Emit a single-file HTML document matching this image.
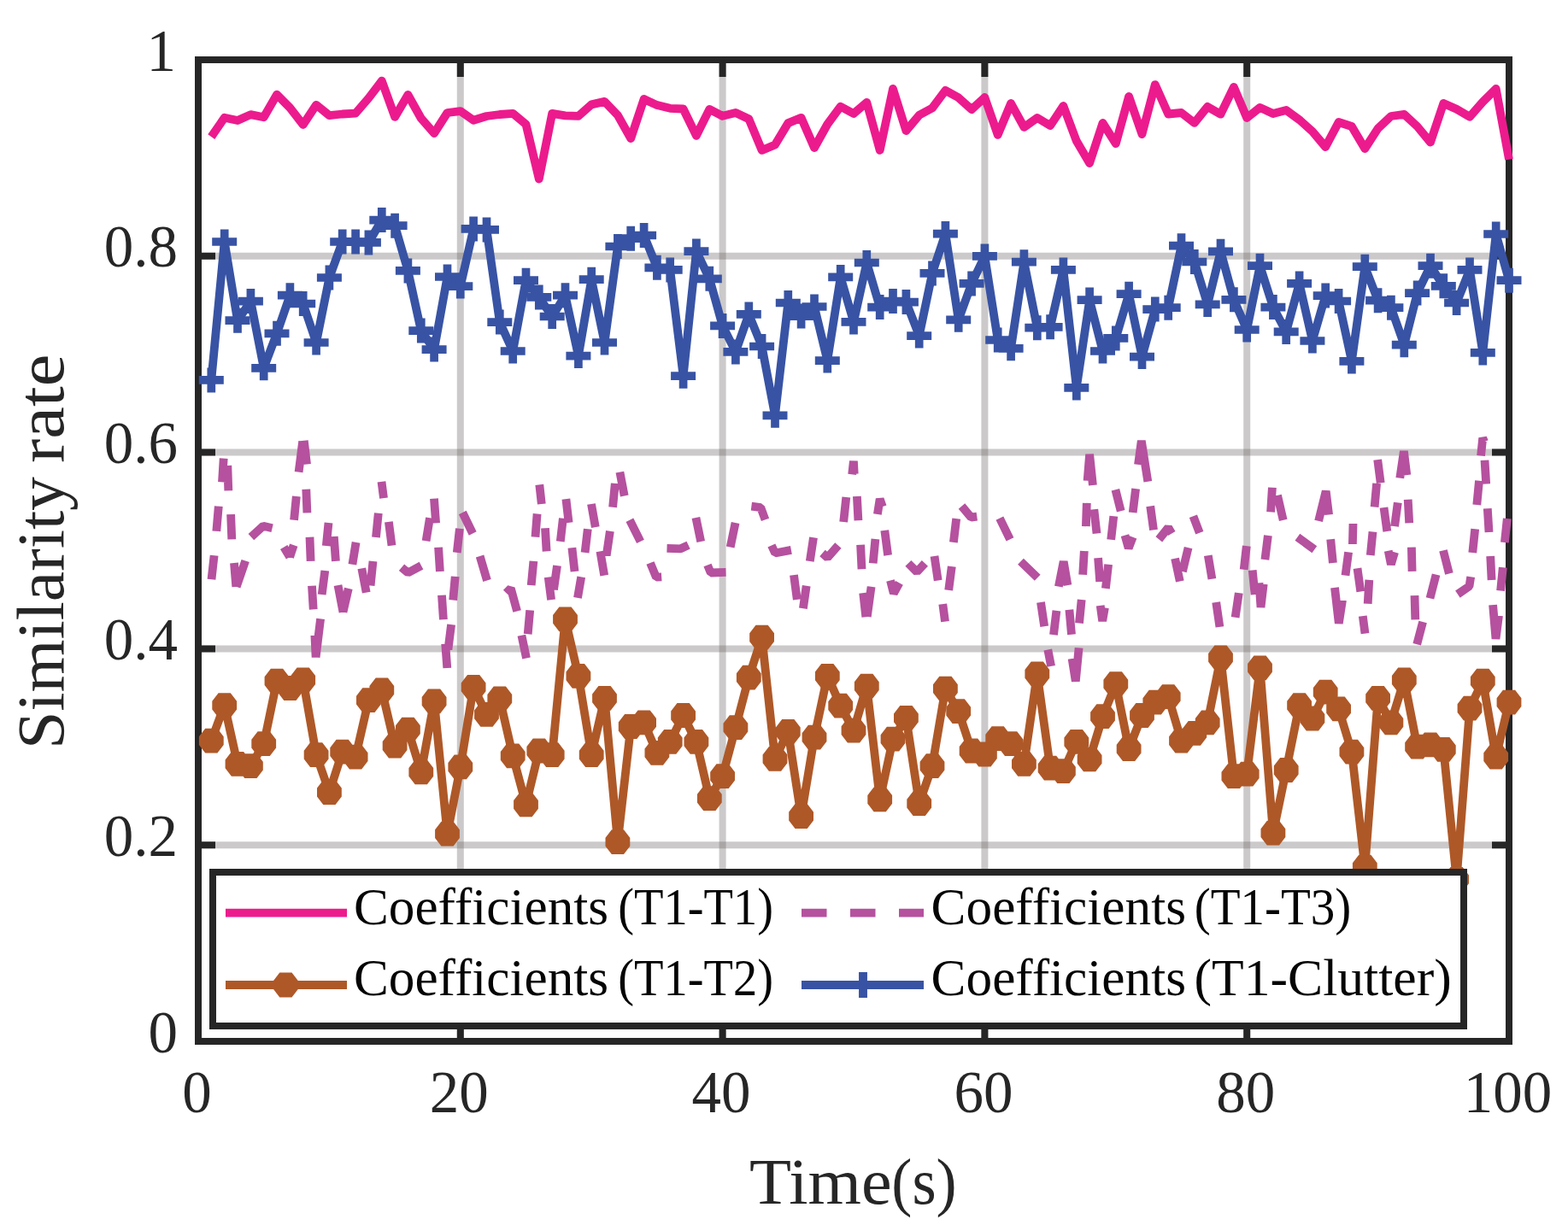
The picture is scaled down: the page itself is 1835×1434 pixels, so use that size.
<!DOCTYPE html>
<html><head><meta charset="utf-8"><title>Similarity rate</title><style>
html,body{margin:0;padding:0;background:#fff;}
svg{display:block;}
text{font-family:"Liberation Serif",serif;fill:#262626;}
</style></head><body>
<svg width="1835" height="1434" viewBox="0 0 1835 1434">
<rect x="0" y="0" width="1835" height="1434" fill="#fff"/>
<g fill="none" stroke="rgb(110,106,104)" stroke-opacity="0.36" stroke-width="8"><path d="M538.8,70V1219"/><path d="M845.6,70V1219"/><path d="M1152.4,70V1219"/><path d="M1459.2,70V1219"/><path d="M232,989.2H1766"/><path d="M232,759.4H1766"/><path d="M232,529.6H1766"/><path d="M232,299.8H1766"/></g>
<path fill="none" stroke="#262626" stroke-width="8" d="M538.8,1219v-20M538.8,70v20M845.6,1219v-20M845.6,70v20M1152.4,1219v-20M1152.4,70v20M1459.2,1219v-20M1459.2,70v20M232,989.2h20M1766,989.2h-20M232,759.4h20M1766,759.4h-20M232,529.6h20M1766,529.6h-20M232,299.8h20M1766,299.8h-20"/>
<rect x="232" y="70" width="1534" height="1149" fill="none" stroke="#262626" stroke-width="8"/>
<polyline fill="none" stroke-linejoin="round" stroke-linecap="butt" stroke="#ec1b8d" stroke-width="9.8" points="247.3,160.1 262.7,137.8 278.0,141.0 293.4,134.1 308.7,137.2 324.0,110.7 339.4,126.3 354.7,146.0 370.1,122.8 385.4,135.1 400.7,133.5 416.1,132.6 431.4,114.9 446.8,94.7 462.1,136.9 477.4,111.0 492.8,138.5 508.1,156.0 523.5,132.0 538.8,130.1 554.1,140.8 569.5,136.0 584.8,134.0 600.2,132.8 615.5,145.5 630.8,209.6 646.2,132.8 661.5,135.3 676.9,135.9 692.2,122.4 707.5,118.9 722.9,134.8 738.2,162.1 753.6,116.0 768.9,123.1 784.2,126.8 799.6,127.5 814.9,158.8 830.3,127.9 845.6,135.8 860.9,132.0 876.3,139.2 891.6,175.9 907.0,169.5 922.3,144.1 937.6,137.8 953.0,173.0 968.3,145.5 983.7,124.7 999.0,133.0 1014.3,119.9 1029.7,175.9 1045.0,103.9 1060.4,153.0 1075.7,134.8 1091.0,126.5 1106.4,105.9 1121.7,114.3 1137.1,128.1 1152.4,114.0 1167.7,157.9 1183.1,121.0 1198.4,148.9 1213.8,137.9 1229.1,147.1 1244.4,124.0 1259.8,165.1 1275.1,191.1 1290.5,144.0 1305.8,168.1 1321.1,112.9 1336.5,157.1 1351.8,99.1 1367.2,133.5 1382.5,132.0 1397.8,143.9 1413.2,124.9 1428.5,133.7 1443.9,102.0 1459.2,138.0 1474.5,125.9 1489.9,133.0 1505.2,129.0 1520.6,140.2 1535.9,153.8 1551.2,172.0 1566.6,143.0 1581.9,148.0 1597.3,174.0 1612.6,150.4 1627.9,136.0 1643.3,133.9 1658.6,148.0 1674.0,166.6 1689.3,121.0 1704.6,127.8 1720.0,136.7 1735.3,119.2 1750.7,103.9 1766.0,186.7"/>
<polyline fill="none" stroke-linejoin="round" stroke-linecap="butt" stroke="#ae5828" stroke-width="9.8" points="247.3,867.1 262.7,825.6 278.0,894.4 293.4,896.7 308.7,870.7 324.0,797.2 339.4,805.5 354.7,796.0 370.1,883.7 385.4,927.5 400.7,880.1 416.1,886.1 431.4,819.7 446.8,807.8 462.1,873.0 477.4,854.1 492.8,903.8 508.1,820.9 523.5,976.1 538.8,897.9 554.1,804.3 569.5,836.3 584.8,817.8 600.2,884.9 615.5,941.8 630.8,879.0 646.2,883.7 661.5,724.9 676.9,791.3 692.2,883.7 707.5,817.3 722.9,985.6 738.2,850.5 753.6,845.8 768.9,881.3 784.2,868.3 799.6,837.5 814.9,868.3 830.3,934.6 845.6,908.6 860.9,851.7 876.3,793.1 891.6,746.2 907.0,888.4 922.3,856.4 937.6,955.5 953.0,863.1 968.3,791.3 983.7,826.1 999.0,855.2 1014.3,803.1 1029.7,935.8 1045.0,865.2 1060.4,840.3 1075.7,940.6 1091.0,896.7 1106.4,806.2 1121.7,832.7 1137.1,879.0 1152.4,883.0 1167.7,864.7 1183.1,870.7 1198.4,894.4 1213.8,788.9 1229.1,899.1 1244.4,902.7 1259.8,868.3 1275.1,888.9 1290.5,838.7 1305.8,800.7 1321.1,876.6 1336.5,837.5 1351.8,822.1 1367.2,815.7 1382.5,867.1 1397.8,858.3 1413.2,845.8 1428.5,769.9 1443.9,908.6 1459.2,906.2 1474.5,781.8 1489.9,975.2 1505.2,901.5 1520.6,825.6 1535.9,841.0 1551.2,810.2 1566.6,829.9 1581.9,880.1 1597.3,1015.2 1612.6,817.3 1627.9,845.8 1643.3,796.0 1658.6,874.2 1674.0,871.8 1689.3,877.3 1704.6,1029.4 1720.0,829.2 1735.3,797.2 1750.7,886.1 1766.0,822.1"/>
<path fill="#ae5828" d="M240.2,852.7L254.4,852.7L261.7,862.2L261.7,872.0L254.4,881.5L240.2,881.5L232.9,872.0L232.9,862.2ZM255.6,811.2L269.8,811.2L277.1,820.7L277.1,830.5L269.8,840.0L255.6,840.0L248.3,830.5L248.3,820.7ZM270.9,880.0L285.1,880.0L292.4,889.5L292.4,899.3L285.1,908.8L270.9,908.8L263.6,899.3L263.6,889.5ZM286.3,882.3L300.5,882.3L307.8,891.8L307.8,901.6L300.5,911.1L286.3,911.1L279.0,901.6L279.0,891.8ZM301.6,856.3L315.8,856.3L323.1,865.8L323.1,875.6L315.8,885.1L301.6,885.1L294.3,875.6L294.3,865.8ZM316.9,782.8L331.1,782.8L338.4,792.3L338.4,802.1L331.1,811.6L316.9,811.6L309.6,802.1L309.6,792.3ZM332.3,791.1L346.5,791.1L353.8,800.6L353.8,810.4L346.5,819.9L332.3,819.9L325.0,810.4L325.0,800.6ZM347.6,781.6L361.8,781.6L369.1,791.1L369.1,800.9L361.8,810.4L347.6,810.4L340.3,800.9L340.3,791.1ZM363.0,869.3L377.2,869.3L384.5,878.8L384.5,888.6L377.2,898.1L363.0,898.1L355.7,888.6L355.7,878.8ZM378.3,913.1L392.5,913.1L399.8,922.6L399.8,932.4L392.5,941.9L378.3,941.9L371.0,932.4L371.0,922.6ZM393.6,865.7L407.8,865.7L415.1,875.2L415.1,885.0L407.8,894.5L393.6,894.5L386.3,885.0L386.3,875.2ZM409.0,871.7L423.2,871.7L430.5,881.2L430.5,891.0L423.2,900.5L409.0,900.5L401.7,891.0L401.7,881.2ZM424.3,805.3L438.5,805.3L445.8,814.8L445.8,824.6L438.5,834.1L424.3,834.1L417.0,824.6L417.0,814.8ZM439.7,793.4L453.9,793.4L461.2,802.9L461.2,812.7L453.9,822.2L439.7,822.2L432.4,812.7L432.4,802.9ZM455.0,858.6L469.2,858.6L476.5,868.1L476.5,877.9L469.2,887.4L455.0,887.4L447.7,877.9L447.7,868.1ZM470.3,839.7L484.5,839.7L491.8,849.2L491.8,859.0L484.5,868.5L470.3,868.5L463.0,859.0L463.0,849.2ZM485.7,889.4L499.9,889.4L507.2,898.9L507.2,908.7L499.9,918.2L485.7,918.2L478.4,908.7L478.4,898.9ZM501.0,806.5L515.2,806.5L522.5,816.0L522.5,825.8L515.2,835.3L501.0,835.3L493.7,825.8L493.7,816.0ZM516.4,961.7L530.6,961.7L537.9,971.2L537.9,981.0L530.6,990.5L516.4,990.5L509.1,981.0L509.1,971.2ZM531.7,883.5L545.9,883.5L553.2,893.0L553.2,902.8L545.9,912.3L531.7,912.3L524.4,902.8L524.4,893.0ZM547.0,789.9L561.2,789.9L568.5,799.4L568.5,809.2L561.2,818.7L547.0,818.7L539.7,809.2L539.7,799.4ZM562.4,821.9L576.6,821.9L583.9,831.4L583.9,841.2L576.6,850.7L562.4,850.7L555.1,841.2L555.1,831.4ZM577.7,803.4L591.9,803.4L599.2,812.9L599.2,822.7L591.9,832.2L577.7,832.2L570.4,822.7L570.4,812.9ZM593.1,870.5L607.3,870.5L614.6,880.0L614.6,889.8L607.3,899.3L593.1,899.3L585.8,889.8L585.8,880.0ZM608.4,927.4L622.6,927.4L629.9,936.9L629.9,946.7L622.6,956.2L608.4,956.2L601.1,946.7L601.1,936.9ZM623.7,864.6L637.9,864.6L645.2,874.1L645.2,883.9L637.9,893.4L623.7,893.4L616.4,883.9L616.4,874.1ZM639.1,869.3L653.3,869.3L660.6,878.8L660.6,888.6L653.3,898.1L639.1,898.1L631.8,888.6L631.8,878.8ZM654.4,710.5L668.6,710.5L675.9,720.0L675.9,729.8L668.6,739.3L654.4,739.3L647.1,729.8L647.1,720.0ZM669.8,776.9L684.0,776.9L691.3,786.4L691.3,796.2L684.0,805.7L669.8,805.7L662.5,796.2L662.5,786.4ZM685.1,869.3L699.3,869.3L706.6,878.8L706.6,888.6L699.3,898.1L685.1,898.1L677.8,888.6L677.8,878.8ZM700.4,802.9L714.6,802.9L721.9,812.4L721.9,822.2L714.6,831.7L700.4,831.7L693.1,822.2L693.1,812.4ZM715.8,971.2L730.0,971.2L737.3,980.7L737.3,990.5L730.0,1000.0L715.8,1000.0L708.5,990.5L708.5,980.7ZM731.1,836.1L745.3,836.1L752.6,845.6L752.6,855.4L745.3,864.9L731.1,864.9L723.8,855.4L723.8,845.6ZM746.5,831.4L760.7,831.4L768.0,840.9L768.0,850.7L760.7,860.2L746.5,860.2L739.2,850.7L739.2,840.9ZM761.8,866.9L776.0,866.9L783.3,876.4L783.3,886.2L776.0,895.7L761.8,895.7L754.5,886.2L754.5,876.4ZM777.1,853.9L791.3,853.9L798.6,863.4L798.6,873.2L791.3,882.7L777.1,882.7L769.8,873.2L769.8,863.4ZM792.5,823.1L806.7,823.1L814.0,832.6L814.0,842.4L806.7,851.9L792.5,851.9L785.2,842.4L785.2,832.6ZM807.8,853.9L822.0,853.9L829.3,863.4L829.3,873.2L822.0,882.7L807.8,882.7L800.5,873.2L800.5,863.4ZM823.2,920.2L837.4,920.2L844.7,929.7L844.7,939.5L837.4,949.0L823.2,949.0L815.9,939.5L815.9,929.7ZM838.5,894.2L852.7,894.2L860.0,903.7L860.0,913.5L852.7,923.0L838.5,923.0L831.2,913.5L831.2,903.7ZM853.8,837.3L868.0,837.3L875.3,846.8L875.3,856.6L868.0,866.1L853.8,866.1L846.5,856.6L846.5,846.8ZM869.2,778.7L883.4,778.7L890.7,788.2L890.7,798.0L883.4,807.5L869.2,807.5L861.9,798.0L861.9,788.2ZM884.5,731.8L898.7,731.8L906.0,741.3L906.0,751.1L898.7,760.6L884.5,760.6L877.2,751.1L877.2,741.3ZM899.9,874.0L914.1,874.0L921.4,883.5L921.4,893.3L914.1,902.8L899.9,902.8L892.6,893.3L892.6,883.5ZM915.2,842.0L929.4,842.0L936.7,851.5L936.7,861.3L929.4,870.8L915.2,870.8L907.9,861.3L907.9,851.5ZM930.5,941.1L944.7,941.1L952.0,950.6L952.0,960.4L944.7,969.9L930.5,969.9L923.2,960.4L923.2,950.6ZM945.9,848.7L960.1,848.7L967.4,858.2L967.4,868.0L960.1,877.5L945.9,877.5L938.6,868.0L938.6,858.2ZM961.2,776.9L975.4,776.9L982.7,786.4L982.7,796.2L975.4,805.7L961.2,805.7L953.9,796.2L953.9,786.4ZM976.6,811.7L990.8,811.7L998.1,821.2L998.1,831.0L990.8,840.5L976.6,840.5L969.3,831.0L969.3,821.2ZM991.9,840.8L1006.1,840.8L1013.4,850.3L1013.4,860.1L1006.1,869.6L991.9,869.6L984.6,860.1L984.6,850.3ZM1007.2,788.7L1021.4,788.7L1028.7,798.2L1028.7,808.0L1021.4,817.5L1007.2,817.5L999.9,808.0L999.9,798.2ZM1022.6,921.4L1036.8,921.4L1044.1,930.9L1044.1,940.7L1036.8,950.2L1022.6,950.2L1015.3,940.7L1015.3,930.9ZM1037.9,850.8L1052.1,850.8L1059.4,860.3L1059.4,870.1L1052.1,879.6L1037.9,879.6L1030.6,870.1L1030.6,860.3ZM1053.3,825.9L1067.5,825.9L1074.8,835.4L1074.8,845.2L1067.5,854.7L1053.3,854.7L1046.0,845.2L1046.0,835.4ZM1068.6,926.2L1082.8,926.2L1090.1,935.7L1090.1,945.5L1082.8,955.0L1068.6,955.0L1061.3,945.5L1061.3,935.7ZM1083.9,882.3L1098.1,882.3L1105.4,891.8L1105.4,901.6L1098.1,911.1L1083.9,911.1L1076.6,901.6L1076.6,891.8ZM1099.3,791.8L1113.5,791.8L1120.8,801.3L1120.8,811.1L1113.5,820.6L1099.3,820.6L1092.0,811.1L1092.0,801.3ZM1114.6,818.3L1128.8,818.3L1136.1,827.8L1136.1,837.6L1128.8,847.1L1114.6,847.1L1107.3,837.6L1107.3,827.8ZM1130.0,864.6L1144.2,864.6L1151.5,874.1L1151.5,883.9L1144.2,893.4L1130.0,893.4L1122.7,883.9L1122.7,874.1ZM1145.3,868.6L1159.5,868.6L1166.8,878.1L1166.8,887.9L1159.5,897.4L1145.3,897.4L1138.0,887.9L1138.0,878.1ZM1160.6,850.3L1174.8,850.3L1182.1,859.8L1182.1,869.6L1174.8,879.1L1160.6,879.1L1153.3,869.6L1153.3,859.8ZM1176.0,856.3L1190.2,856.3L1197.5,865.8L1197.5,875.6L1190.2,885.1L1176.0,885.1L1168.7,875.6L1168.7,865.8ZM1191.3,880.0L1205.5,880.0L1212.8,889.5L1212.8,899.3L1205.5,908.8L1191.3,908.8L1184.0,899.3L1184.0,889.5ZM1206.7,774.5L1220.9,774.5L1228.2,784.0L1228.2,793.8L1220.9,803.3L1206.7,803.3L1199.4,793.8L1199.4,784.0ZM1222.0,884.7L1236.2,884.7L1243.5,894.2L1243.5,904.0L1236.2,913.5L1222.0,913.5L1214.7,904.0L1214.7,894.2ZM1237.3,888.3L1251.5,888.3L1258.8,897.8L1258.8,907.6L1251.5,917.1L1237.3,917.1L1230.0,907.6L1230.0,897.8ZM1252.7,853.9L1266.9,853.9L1274.2,863.4L1274.2,873.2L1266.9,882.7L1252.7,882.7L1245.4,873.2L1245.4,863.4ZM1268.0,874.5L1282.2,874.5L1289.5,884.0L1289.5,893.8L1282.2,903.3L1268.0,903.3L1260.7,893.8L1260.7,884.0ZM1283.4,824.3L1297.6,824.3L1304.9,833.8L1304.9,843.6L1297.6,853.1L1283.4,853.1L1276.1,843.6L1276.1,833.8ZM1298.7,786.3L1312.9,786.3L1320.2,795.8L1320.2,805.6L1312.9,815.1L1298.7,815.1L1291.4,805.6L1291.4,795.8ZM1314.0,862.2L1328.2,862.2L1335.5,871.7L1335.5,881.5L1328.2,891.0L1314.0,891.0L1306.7,881.5L1306.7,871.7ZM1329.4,823.1L1343.6,823.1L1350.9,832.6L1350.9,842.4L1343.6,851.9L1329.4,851.9L1322.1,842.4L1322.1,832.6ZM1344.7,807.7L1358.9,807.7L1366.2,817.2L1366.2,827.0L1358.9,836.5L1344.7,836.5L1337.4,827.0L1337.4,817.2ZM1360.1,801.3L1374.3,801.3L1381.6,810.8L1381.6,820.6L1374.3,830.1L1360.1,830.1L1352.8,820.6L1352.8,810.8ZM1375.4,852.7L1389.6,852.7L1396.9,862.2L1396.9,872.0L1389.6,881.5L1375.4,881.5L1368.1,872.0L1368.1,862.2ZM1390.7,843.9L1404.9,843.9L1412.2,853.4L1412.2,863.2L1404.9,872.7L1390.7,872.7L1383.4,863.2L1383.4,853.4ZM1406.1,831.4L1420.3,831.4L1427.6,840.9L1427.6,850.7L1420.3,860.2L1406.1,860.2L1398.8,850.7L1398.8,840.9ZM1421.4,755.5L1435.6,755.5L1442.9,765.0L1442.9,774.8L1435.6,784.3L1421.4,784.3L1414.1,774.8L1414.1,765.0ZM1436.8,894.2L1451.0,894.2L1458.3,903.7L1458.3,913.5L1451.0,923.0L1436.8,923.0L1429.5,913.5L1429.5,903.7ZM1452.1,891.8L1466.3,891.8L1473.6,901.3L1473.6,911.1L1466.3,920.6L1452.1,920.6L1444.8,911.1L1444.8,901.3ZM1467.4,767.4L1481.6,767.4L1488.9,776.9L1488.9,786.7L1481.6,796.2L1467.4,796.2L1460.1,786.7L1460.1,776.9ZM1482.8,960.8L1497.0,960.8L1504.3,970.3L1504.3,980.1L1497.0,989.6L1482.8,989.6L1475.5,980.1L1475.5,970.3ZM1498.1,887.1L1512.3,887.1L1519.6,896.6L1519.6,906.4L1512.3,915.9L1498.1,915.9L1490.8,906.4L1490.8,896.6ZM1513.5,811.2L1527.7,811.2L1535.0,820.7L1535.0,830.5L1527.7,840.0L1513.5,840.0L1506.2,830.5L1506.2,820.7ZM1528.8,826.6L1543.0,826.6L1550.3,836.1L1550.3,845.9L1543.0,855.4L1528.8,855.4L1521.5,845.9L1521.5,836.1ZM1544.1,795.8L1558.3,795.8L1565.6,805.3L1565.6,815.1L1558.3,824.6L1544.1,824.6L1536.8,815.1L1536.8,805.3ZM1559.5,815.5L1573.7,815.5L1581.0,825.0L1581.0,834.8L1573.7,844.3L1559.5,844.3L1552.2,834.8L1552.2,825.0ZM1574.8,865.7L1589.0,865.7L1596.3,875.2L1596.3,885.0L1589.0,894.5L1574.8,894.5L1567.5,885.0L1567.5,875.2ZM1590.2,1000.8L1604.4,1000.8L1611.7,1010.3L1611.7,1020.1L1604.4,1029.6L1590.2,1029.6L1582.9,1020.1L1582.9,1010.3ZM1605.5,802.9L1619.7,802.9L1627.0,812.4L1627.0,822.2L1619.7,831.7L1605.5,831.7L1598.2,822.2L1598.2,812.4ZM1620.8,831.4L1635.0,831.4L1642.3,840.9L1642.3,850.7L1635.0,860.2L1620.8,860.2L1613.5,850.7L1613.5,840.9ZM1636.2,781.6L1650.4,781.6L1657.7,791.1L1657.7,800.9L1650.4,810.4L1636.2,810.4L1628.9,800.9L1628.9,791.1ZM1651.5,859.8L1665.7,859.8L1673.0,869.3L1673.0,879.1L1665.7,888.6L1651.5,888.6L1644.2,879.1L1644.2,869.3ZM1666.9,857.4L1681.1,857.4L1688.4,866.9L1688.4,876.7L1681.1,886.2L1666.9,886.2L1659.6,876.7L1659.6,866.9ZM1682.2,862.9L1696.4,862.9L1703.7,872.4L1703.7,882.2L1696.4,891.7L1682.2,891.7L1674.9,882.2L1674.9,872.4ZM1697.5,1015.0L1711.7,1015.0L1719.0,1024.5L1719.0,1034.3L1711.7,1043.8L1697.5,1043.8L1690.2,1034.3L1690.2,1024.5ZM1712.9,814.8L1727.1,814.8L1734.4,824.3L1734.4,834.1L1727.1,843.6L1712.9,843.6L1705.6,834.1L1705.6,824.3ZM1728.2,782.8L1742.4,782.8L1749.7,792.3L1749.7,802.1L1742.4,811.6L1728.2,811.6L1720.9,802.1L1720.9,792.3ZM1743.6,871.7L1757.8,871.7L1765.1,881.2L1765.1,891.0L1757.8,900.5L1743.6,900.5L1736.3,891.0L1736.3,881.2ZM1758.9,807.7L1773.1,807.7L1780.4,817.2L1780.4,827.0L1773.1,836.5L1758.9,836.5L1751.6,827.0L1751.6,817.2Z"/>
<path fill="none" stroke="#b5519e" stroke-width="9.8" stroke-linejoin="bevel" stroke-linecap="butt" d="M247.5,678.2L250.6,650.2M253.3,621.8L255.8,592.7M260.0,564.4L261.7,536.6M266.3,545.0L267.3,574.3M270.1,602.1L271.3,631.4M274.0,659.0L276.3,686.8M276.7,686.8L287.2,656.5M293.9,628.7L308.1,615.7L318.6,618.2M332.2,640.6L339.1,652.1M339.1,652.1L343.7,638.1M344.1,608.8L346.8,581.0M349.6,552.7L354.2,516.7M355.8,515.7L359.0,543.5M358.3,572.8L359.4,600.4M362.5,628.7L363.6,656.9M365.0,685.8L366.7,713.4M368.4,743.7L369.6,769.5M369.6,769.5L375.1,724.3M376.7,696.0L380.3,668.0M381.8,639.1L384.5,611.9M390.8,628.0L392.9,656.9M395.5,685.1L401.5,716.5M401.5,716.5L407.8,688.9M412.4,660.7L416.6,634.9M423.3,665.3L428.7,693.7M433.6,685.4L436.5,656.9M440.0,629.1L442.8,600.8M446.5,563.8L449.0,583.1M454.9,610.9L458.5,638.7M470.0,664.2L477.5,670.5L493.0,662.1M498.6,633.3L503.0,606.3M508.0,583.7L510.1,612.3M513.1,640.8L514.9,669.0M517.0,696.7L518.9,725.3M521.2,753.6L523.3,782.0M524.4,760.5L528.1,731.2M530.2,702.5L532.7,674.9M534.8,646.9L537.9,618.8M541.3,600.0L553.2,624.5M561.6,651.0L570.0,679.5M592.4,694.1L597.8,688.7L605.1,715.5M610.4,743.7L616.0,770.5M617.7,742.3L620.2,714.4M621.7,685.1L624.4,656.9M626.5,628.7L628.6,601.5M631.3,567.4L633.8,590.0M638.0,618.2L639.6,645.4M641.7,675.7L645.1,702.1M648.0,690.4L652.0,662.1M655.8,633.9L658.9,606.7M662.4,584.1L665.6,611.9M669.4,641.2L672.5,669.0M676.0,699.8L680.2,675.3M684.6,646.9L687.8,619.2M692.0,590.0L696.8,617.2M702.4,645.4L707.2,673.6M709.7,650.2L713.9,621.8M717.1,593.7L719.8,565.9M725.4,552.7L730.7,580.5M736.9,608.8L749.5,633.9M761.0,659.0L767.9,675.7L774.2,675.3M780.5,641.8L796.6,642.3L805.6,638.1M814.4,605.9L820.2,633.9M828.0,661.5L831.7,670.5L849.5,669.9M854.7,640.6L860.6,611.9M879.4,592.7L890.3,594.1L895.5,608.4M902.9,638.5L907.1,647.5L925.9,643.9M947.8,656.9L952.0,629.3M929.0,673.2L932.8,701.9M939.9,712.3L943.7,685.8M962.5,647.5L968.4,652.7L980.9,638.5M987.2,610.9L990.3,582.0M997.2,555.4L998.9,539.7L999.7,554.8M1002.9,581.0L1004.4,609.2M1026.9,602.1L1029.7,584.1L1032.8,593.1M1007.1,637.7L1008.5,666.3M1021.7,659.4L1024.4,631.0M1035.3,620.9L1039.1,650.0M1010.2,694.1L1013.3,722.2M1014.8,721.8L1019.6,686.8M1042.0,679.5L1045.8,694.6L1052.5,682.4M1062.9,659.4L1073.0,669.5L1082.4,659.4M1093.5,651.0L1097.7,679.5M1110.2,690.8L1113.8,663.2M1103.3,707.1L1106.0,727.6M1115.9,634.9L1119.2,607.1M1125.5,592.5L1136.4,605.6L1143.3,604.6M1169.9,606.7L1182.0,631.4M1194.5,657.3L1214.2,676.2M1238.9,686.6L1244.7,657.3L1249.4,685.1M1218.0,705.0L1222.2,733.3M1233.0,743.1L1236.4,714.9M1251.4,713.8L1254.0,742.7M1226.3,760.5L1230.1,779.9M1254.6,770.9L1258.8,797.5L1262.6,758.4M1263.0,729.5L1265.7,701.9M1267.2,672.8L1268.8,645.0M1270.9,616.1L1271.8,588.9M1272.6,562.8L1275.1,531.8L1278.9,568.0M1280.3,596.2L1283.5,624.5M1285.1,653.1L1287.2,681.0M1287.7,708.8L1290.2,727.0L1292.9,711.3M1293.9,688.9L1297.1,660.7M1300.2,631.8L1303.3,604.2M1305.4,573.2L1311.7,598.3M1316.5,626.6L1320.7,641.8L1325.7,628.7M1325.7,600.0L1329.1,572.2M1332.0,543.9L1335.8,515.9L1343.3,563.8M1346.2,592.5L1350.0,620.3M1356.3,631.4L1367.2,617.6L1371.3,624.5M1375.1,653.8L1380.8,680.5M1383.9,669.0L1390.6,641.2M1396.4,604.2L1403.8,623.8M1413.8,650.2L1418.4,677.8M1423.2,705.0L1427.4,733.9M1445.6,722.8L1449.8,694.1M1455.7,666.7L1458.8,639.1M1465.7,667.4L1468.6,696.0M1473.5,682.4L1475.5,710.9L1478.7,683.7M1480.4,655.2L1483.9,626.8M1487.1,599.4L1488.9,570.7M1495.0,579.9L1501.7,608.8M1518.4,628.7L1538.3,643.3M1543.1,609.8L1551.7,574.9L1555.1,602.5M1557.2,631.2L1559.9,659.0M1562.0,687.9L1566.8,729.7L1571.0,702.5M1574.5,673.6L1578.1,646.4M1582.9,637.0L1583.5,613.0M1588.5,665.3L1592.3,692.5M1600.7,706.7L1602.3,678.9M1594.8,721.1L1597.5,741.6M1603.8,650.0L1606.5,622.4M1608.6,593.5L1611.1,565.9M1612.2,538.1L1615.7,565.3M1619.5,594.1L1623.3,622.0M1624.7,644.8L1627.9,660.7L1632.1,646.4M1632.1,616.1L1635.8,588.3M1638.3,559.6L1642.9,528.2L1646.3,556.1M1647.7,584.7L1649.2,612.3M1651.9,640.6L1652.6,668.8M1655.5,697.1L1656.3,725.3M1658.2,754.2L1665.1,728.0M1673.5,700.4L1680.6,672.6M1689.0,644.4L1695.9,671.5M1705.9,695.6L1719.5,686.2L1721.2,675.3M1723.3,646.9L1726.2,619.2M1728.3,591.0L1731.0,562.8M1733.1,533.5L1735.2,512.8L1737.1,517.2M1737.5,538.7L1739.2,566.5M1740.8,595.2L1742.5,623.0M1744.2,651.0L1745.6,678.9M1747.1,708.2L1750.5,747.9L1754.0,720.7M1756.1,691.4L1758.8,664.2M1760.9,634.9L1763.8,607.1"/>
<polyline fill="none" stroke-linejoin="round" stroke-linecap="butt" stroke="#3853a4" stroke-width="9.8" points="247.3,444.9 262.7,283.0 278.0,375.2 293.4,352.6 308.7,430.8 324.0,390.3 339.4,345.7 354.7,355.5 370.1,401.0 385.4,325.0 400.7,283.0 416.1,283.0 431.4,283.9 446.8,257.6 462.1,264.2 477.4,316.9 492.8,387.1 508.1,409.1 523.5,324.0 538.8,335.1 554.1,267.9 569.5,268.9 584.8,377.1 600.2,411.0 615.5,328.2 630.8,347.9 646.2,370.5 661.5,345.7 676.9,416.6 692.2,327.2 707.5,401.0 722.9,288.5 738.2,279.2 753.6,275.5 768.9,313.3 784.2,315.9 799.6,440.2 814.9,294.1 830.3,326.3 845.6,381.4 860.9,411.9 876.3,367.9 891.6,405.5 907.0,486.3 922.3,354.5 937.6,370.1 953.0,359.0 968.3,422.1 983.7,324.4 999.0,376.9 1014.3,307.5 1029.7,359.6 1045.0,352.6 1060.4,353.6 1075.7,393.1 1091.0,319.9 1106.4,273.6 1121.7,374.3 1137.1,331.9 1152.4,299.9 1167.7,398.0 1183.1,407.8 1198.4,306.7 1213.8,383.7 1229.1,382.8 1244.4,315.9 1259.8,453.9 1275.1,351.1 1290.5,411.0 1305.8,395.9 1321.1,344.2 1336.5,417.6 1351.8,362.1 1367.2,360.2 1382.5,287.7 1397.8,306.5 1413.2,356.4 1428.5,294.3 1443.9,350.8 1459.2,386.0 1474.5,311.2 1489.9,359.6 1505.2,388.4 1520.6,331.9 1535.9,399.0 1551.2,346.1 1566.6,352.5 1581.9,422.9 1597.3,312.2 1612.6,351.7 1627.9,360.2 1643.3,403.7 1658.6,343.1 1674.0,311.2 1689.3,334.8 1704.6,354.5 1720.0,315.9 1735.3,412.9 1750.7,274.0 1766.0,328.2"/>
<path fill="none" stroke="#3853a4" stroke-width="9.7" d="M232.8,444.9H261.8M247.3,430.4V459.4M248.2,283.0H277.2M262.7,268.5V297.5M263.5,375.2H292.5M278.0,360.7V389.7M278.9,352.6H307.9M293.4,338.1V367.1M294.2,430.8H323.2M308.7,416.3V445.3M309.5,390.3H338.5M324.0,375.8V404.8M324.9,345.7H353.9M339.4,331.2V360.2M340.2,355.5H369.2M354.7,341.0V370.0M355.6,401.0H384.6M370.1,386.5V415.5M370.9,325.0H399.9M385.4,310.5V339.5M386.2,283.0H415.2M400.7,268.5V297.5M401.6,283.0H430.6M416.1,268.5V297.5M416.9,283.9H445.9M431.4,269.4V298.4M432.3,257.6H461.3M446.8,243.1V272.1M447.6,264.2H476.6M462.1,249.7V278.7M462.9,316.9H491.9M477.4,302.4V331.4M478.3,387.1H507.3M492.8,372.6V401.6M493.6,409.1H522.6M508.1,394.6V423.6M509.0,324.0H538.0M523.5,309.5V338.5M524.3,335.1H553.3M538.8,320.6V349.6M539.6,267.9H568.6M554.1,253.4V282.4M555.0,268.9H584.0M569.5,254.4V283.4M570.3,377.1H599.3M584.8,362.6V391.6M585.7,411.0H614.7M600.2,396.5V425.5M601.0,328.2H630.0M615.5,313.7V342.7M616.3,347.9H645.3M630.8,333.4V362.4M631.7,370.5H660.7M646.2,356.0V385.0M647.0,345.7H676.0M661.5,331.2V360.2M662.4,416.6H691.4M676.9,402.1V431.1M677.7,327.2H706.7M692.2,312.7V341.7M693.0,401.0H722.0M707.5,386.5V415.5M708.4,288.5H737.4M722.9,274.0V303.0M723.7,279.2H752.7M738.2,264.7V293.7M739.1,275.5H768.1M753.6,261.0V290.0M754.4,313.3H783.4M768.9,298.8V327.8M769.7,315.9H798.7M784.2,301.4V330.4M785.1,440.2H814.1M799.6,425.7V454.7M800.4,294.1H829.4M814.9,279.6V308.6M815.8,326.3H844.8M830.3,311.8V340.8M831.1,381.4H860.1M845.6,366.9V395.9M846.4,411.9H875.4M860.9,397.4V426.4M861.8,367.9H890.8M876.3,353.4V382.4M877.1,405.5H906.1M891.6,391.0V420.0M892.5,486.3H921.5M907.0,471.8V500.8M907.8,354.5H936.8M922.3,340.0V369.0M923.1,370.1H952.1M937.6,355.6V384.6M938.5,359.0H967.5M953.0,344.5V373.5M953.8,422.1H982.8M968.3,407.6V436.6M969.2,324.4H998.2M983.7,309.9V338.9M984.5,376.9H1013.5M999.0,362.4V391.4M999.8,307.5H1028.8M1014.3,293.0V322.0M1015.2,359.6H1044.2M1029.7,345.1V374.1M1030.5,352.6H1059.5M1045.0,338.1V367.1M1045.9,353.6H1074.9M1060.4,339.1V368.1M1061.2,393.1H1090.2M1075.7,378.6V407.6M1076.5,319.9H1105.5M1091.0,305.4V334.4M1091.9,273.6H1120.9M1106.4,259.1V288.1M1107.2,374.3H1136.2M1121.7,359.8V388.8M1122.6,331.9H1151.6M1137.1,317.4V346.4M1137.9,299.9H1166.9M1152.4,285.4V314.4M1153.2,398.0H1182.2M1167.7,383.5V412.5M1168.6,407.8H1197.6M1183.1,393.3V422.3M1183.9,306.7H1212.9M1198.4,292.2V321.2M1199.3,383.7H1228.3M1213.8,369.2V398.2M1214.6,382.8H1243.6M1229.1,368.3V397.3M1229.9,315.9H1258.9M1244.4,301.4V330.4M1245.3,453.9H1274.3M1259.8,439.4V468.4M1260.6,351.1H1289.6M1275.1,336.6V365.6M1276.0,411.0H1305.0M1290.5,396.5V425.5M1291.3,395.9H1320.3M1305.8,381.4V410.4M1306.6,344.2H1335.6M1321.1,329.7V358.7M1322.0,417.6H1351.0M1336.5,403.1V432.1M1337.3,362.1H1366.3M1351.8,347.6V376.6M1352.7,360.2H1381.7M1367.2,345.7V374.7M1368.0,287.7H1397.0M1382.5,273.2V302.2M1383.3,306.5H1412.3M1397.8,292.0V321.0M1398.7,356.4H1427.7M1413.2,341.9V370.9M1414.0,294.3H1443.0M1428.5,279.8V308.8M1429.4,350.8H1458.4M1443.9,336.3V365.3M1444.7,386.0H1473.7M1459.2,371.5V400.5M1460.0,311.2H1489.0M1474.5,296.7V325.7M1475.4,359.6H1504.4M1489.9,345.1V374.1M1490.7,388.4H1519.7M1505.2,373.9V402.9M1506.1,331.9H1535.1M1520.6,317.4V346.4M1521.4,399.0H1550.4M1535.9,384.5V413.5M1536.7,346.1H1565.7M1551.2,331.6V360.6M1552.1,352.5H1581.1M1566.6,338.0V367.0M1567.4,422.9H1596.4M1581.9,408.4V437.4M1582.8,312.2H1611.8M1597.3,297.7V326.7M1598.1,351.7H1627.1M1612.6,337.2V366.2M1613.4,360.2H1642.4M1627.9,345.7V374.7M1628.8,403.7H1657.8M1643.3,389.2V418.2M1644.1,343.1H1673.1M1658.6,328.6V357.6M1659.5,311.2H1688.5M1674.0,296.7V325.7M1674.8,334.8H1703.8M1689.3,320.3V349.3M1690.1,354.5H1719.1M1704.6,340.0V369.0M1705.5,315.9H1734.5M1720.0,301.4V330.4M1720.8,412.9H1749.8M1735.3,398.4V427.4M1736.2,274.0H1765.2M1750.7,259.5V288.5M1751.5,328.2H1780.5M1766.0,313.7V342.7"/>
<rect x="249" y="1021" width="1464" height="180" fill="#fff" stroke="#262626" stroke-width="8"/>
<path d="M264,1068.7H406" stroke="#ec1b8d" stroke-width="9.8"/>
<path d="M264,1153H406" stroke="#ae5828" stroke-width="9.8"/><path fill="#ae5828" d="M327.3,1138.6L341.5,1138.6L348.8,1148.1L348.8,1157.9L341.5,1167.4L327.3,1167.4L320.0,1157.9L320.0,1148.1Z"/>
<path d="M938,1068.7H1081" stroke="#b5519e" stroke-width="9.8" stroke-dasharray="29.5 27.5"/>
<path d="M938,1153H1081" stroke="#3853a4" stroke-width="9.8"/><path d="M1010,1138V1168" stroke="#3853a4" stroke-width="9.9"/>
<text y="1081.5" font-size="62" style="fill:#050505"><tspan x="414.0" textLength="298.1" lengthAdjust="spacingAndGlyphs">Coefficients</tspan> <tspan x="723.3" textLength="181.7" lengthAdjust="spacingAndGlyphs">(T1-T1)</tspan></text>
<text y="1165.3" font-size="62" style="fill:#050505"><tspan x="414.0" textLength="298.1" lengthAdjust="spacingAndGlyphs">Coefficients</tspan> <tspan x="723.3" textLength="181.7" lengthAdjust="spacingAndGlyphs">(T1-T2)</tspan></text>
<text y="1081.5" font-size="62" style="fill:#050505"><tspan x="1089.6" textLength="298.5" lengthAdjust="spacingAndGlyphs">Coefficients</tspan> <tspan x="1397.7" textLength="183.5" lengthAdjust="spacingAndGlyphs">(T1-T3)</tspan></text>
<text y="1165.3" font-size="62" style="fill:#050505"><tspan x="1089.6" textLength="298.5" lengthAdjust="spacingAndGlyphs">Coefficients</tspan> <tspan x="1397.5" textLength="301.3" lengthAdjust="spacingAndGlyphs">(T1-Clutter)</tspan></text>
<text x="206" y="82.5" font-size="69" text-anchor="end">1</text>
<text x="208" y="312.3" font-size="69" text-anchor="end">0.8</text>
<text x="208" y="542.1" font-size="69" text-anchor="end">0.6</text>
<text x="208" y="771.9" font-size="69" text-anchor="end">0.4</text>
<text x="208" y="1001.7" font-size="69" text-anchor="end">0.2</text>
<text x="208" y="1231.5" font-size="69" text-anchor="end">0</text>
<text x="230.5" y="1302" font-size="69" text-anchor="middle">0</text>
<text x="537.3" y="1302" font-size="69" text-anchor="middle">20</text>
<text x="844.1" y="1302" font-size="69" text-anchor="middle">40</text>
<text x="1150.9" y="1302" font-size="69" text-anchor="middle">60</text>
<text x="1457.7" y="1302" font-size="69" text-anchor="middle">80</text>
<text x="1764.5" y="1302" font-size="69" text-anchor="middle">100</text>
<text y="1409.3" font-size="76"><tspan x="877" textLength="166.5" lengthAdjust="spacingAndGlyphs">Time</tspan><tspan x="1043.35" textLength="76.3" lengthAdjust="spacingAndGlyphs">(s)</tspan></text>
<text transform="translate(74,0) rotate(-90)" font-size="78"><tspan x="-877.1" textLength="319.1" lengthAdjust="spacingAndGlyphs">Similarity</tspan> <tspan x="-542" textLength="127.5" lengthAdjust="spacingAndGlyphs">rate</tspan></text>
</svg></body></html>
